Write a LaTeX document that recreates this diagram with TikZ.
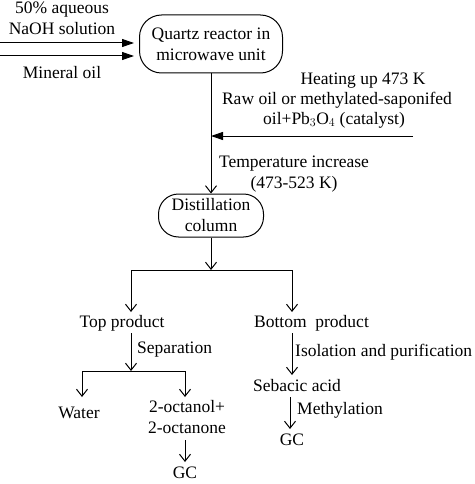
\documentclass[tikz,border=0pt]{standalone}
\usepackage{fontspec}
\setmainfont{Liberation Serif}
\usetikzlibrary{arrows.meta}
\begin{document}
\begin{tikzpicture}[x=1pt,y=-1pt,
  txt/.style={inner sep=0pt,font=\fontsize{17.5}{21}\selectfont,align=center},
  txtl/.style={txt,anchor=west},
  boxnode/.style={txt,draw,line width=1pt,rounded corners=22pt},
  flow/.style={line width=1pt,-{Straight Barb[length=7pt,width=11pt]}},
  feed/.style={line width=1pt,-{Triangle[length=12pt,width=8pt]}},
  plain/.style={line width=1pt}]
\useasboundingbox (0,0) rectangle (474,484);
% nodes
\node[txt] (naoh) at (62,18) {50\% aqueous\\NaOH solution};
\node[txt] (mineral) at (62,73) {Mineral oil};
\node[boxnode,minimum width=143pt,minimum height=58pt] (reactor) at (211,44) {Quartz reactor in\\microwave unit};
\node[txt] (heat1) at (363,81) {Heating up 473 K};
\node[txt] (heat2) at (337,100.5) {Raw oil or methylated-saponifed};
\node[txt] (heat3) at (334,120) {oil+Pb$_3$O$_4$ (catalyst)};
\node[txt] (temp) at (294,174) {Temperature increase\\(473-523 K)};
\node[boxnode,rounded corners=20pt,minimum width=105pt,minimum height=43pt] (distill) at (211,215.5) {Distillation\\column};
\node[txt] (top) at (122,323) {Top product};
\node[txt] (bottom) at (311.5,323) {Bottom\ \ product};
\node[txtl] (sep) at (137,350) {Separation};
\node[txt] (water) at (79,413) {Water};
\node[txt] (octa) at (187,417.5) {2-octanol+\\2-octanone};
\node[txt] (gc1) at (185,473) {GC};
\node[txtl] (iso) at (295,352) {Isolation and purification};
\node[txt] (seb) at (297,386) {Sebacic acid};
\node[txtl] (meth) at (297,410) {Methylation};
\node[txt] (gc2) at (292,440) {GC};
% coordinates
\coordinate (f1s) at (0,43);
\coordinate (f1e) at (134,43);
\coordinate (f2s) at (0,56);
\coordinate (f2e) at (134,56);
\coordinate (hs) at (413,136);
\coordinate (he) at (211,136);
\coordinate (sp) at (211,270);
\coordinate (spl) at (131,270);
\coordinate (spr) at (292,270);
\coordinate (tpa) at (131,312);
\coordinate (bpa) at (292,312);
\coordinate (sepa) at (131,333);
\coordinate (sepb) at (131,371);
\coordinate (sepl) at (82,371);
\coordinate (sepr) at (185,371);
\coordinate (wa) at (82,397);
\coordinate (oa) at (185,397);
\coordinate (ga) at (185,440);
\coordinate (gb) at (185,462);
\coordinate (isa) at (292,333);
\coordinate (isb) at (292,375);
\coordinate (ma) at (290,397);
\coordinate (mb) at (290,429);
% connectors
\draw[feed] (f1s) -- (f1e);
\draw[feed] (f2s) -- (f2e);
\draw[feed] (hs) -- (he);
\draw[flow] (reactor.south) -- (distill.north);
\draw[flow] (distill.south) -- (sp);
\draw[plain] (spl) -- (spr);
\draw[flow] (spl) -- (tpa);
\draw[flow] (spr) -- (bpa);
\draw[flow] (sepa) -- (sepb);
\draw[plain] (sepl) -- (sepr);
\draw[flow] (sepl) -- (wa);
\draw[flow] (sepr) -- (oa);
\draw[flow] (ga) -- (gb);
\draw[flow] (isa) -- (isb);
\draw[flow] (ma) -- (mb);
\end{tikzpicture}
\end{document}
